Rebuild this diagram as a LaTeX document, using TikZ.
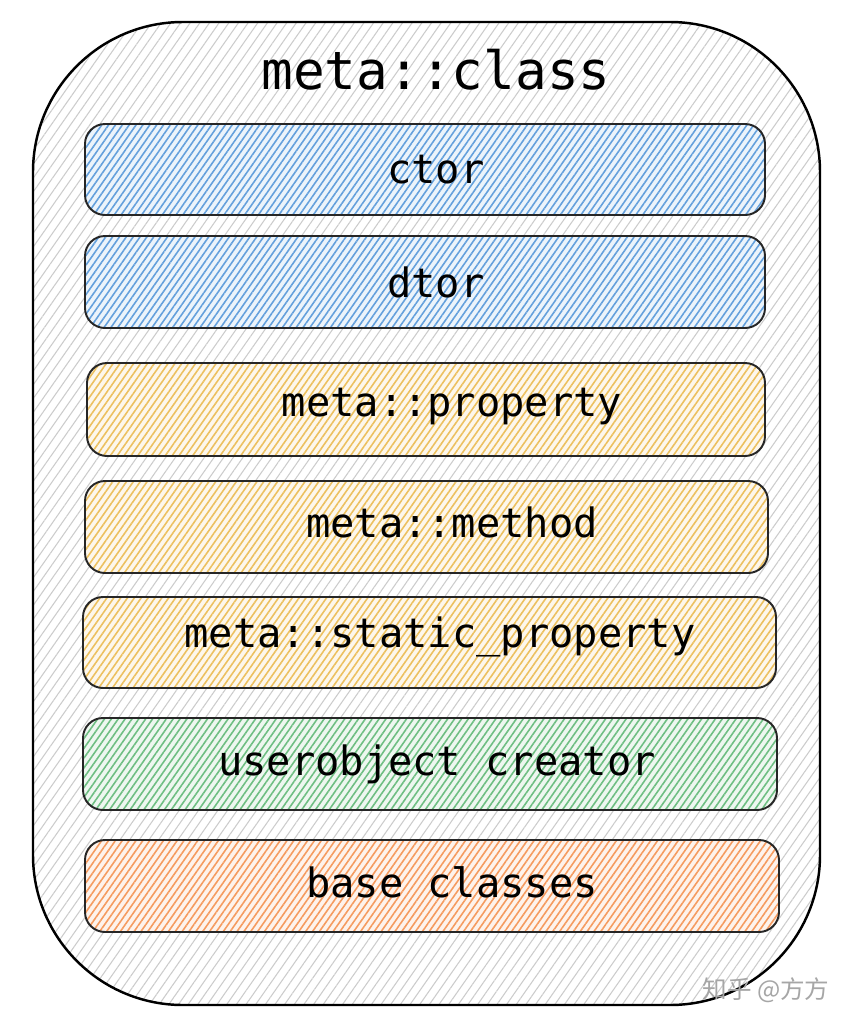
\documentclass[tikz,border=0pt]{standalone}
\usepackage{fontspec}
\setmonofont{DejaVu Sans Mono}
\newfontfamily\cjk{Noto Sans CJK SC}
\usetikzlibrary{patterns.meta}

\definecolor{hblue}{RGB}{100,160,220}
\definecolor{hyellow}{RGB}{236,192,95}
\definecolor{hgreen}{RGB}{110,190,130}
\definecolor{horange}{RGB}{245,155,95}

\tikzset{
  outerbox/.style={draw, line width=1.4pt, rounded corners=3cm,
    pattern={Lines[angle=55,distance=4.5pt,line width=0.6pt]}, pattern color=gray!40},
  bar/.style={draw=black!85, line width=1.1pt, rounded corners=0.4cm,
    preaction={fill=#1!12}, pattern={Lines[angle=55,distance=3.2pt,line width=0.9pt]},
    pattern color=#1},
  txt/.style={font=\ttfamily\fontsize{23}{26}\selectfont, inner sep=0pt},
}

\begin{document}
\begin{tikzpicture}[x=0.02cm,y=-0.02cm]
\useasboundingbox (0,0) rectangle (855,1025);
\fill[white] (0,0) rectangle (855,1025);

\draw[outerbox] (33,22) rectangle (820,1005);
\node[txt, font=\ttfamily\fontsize{30}{34}\selectfont] (title) at (436,70) {meta::class};

\draw[bar=hblue] (85,124) rectangle (765,215);
\node[txt] (ctor) at (436,170) {ctor};
\draw[bar=hblue] (85,236) rectangle (765,328);
\node[txt] (dtor) at (436,282) {dtor};

\draw[bar=hyellow] (87,363) rectangle (765,456);
\node[txt] (prop) at (452,407) {meta::property};
\draw[bar=hyellow] (85,481) rectangle (768,573);
\node[txt] (meth) at (452,522) {meta::method};
\draw[bar=hyellow] (83,597) rectangle (776,688);
\node[txt] (sprop) at (440,637) {meta::static\_property};

\draw[bar=hgreen] (83,718) rectangle (777,810);
\node[txt] (creator) at (437,764) {userobject creator};

\draw[bar=horange] (85,840) rectangle (779,932);
\node[txt] (base) at (452,882) {base classes};

\node[text=gray!70, font=\cjk\fontsize{14}{16}\selectfont] (mark) at (766,990) {知乎 @方方};
\end{tikzpicture}
\end{document}
